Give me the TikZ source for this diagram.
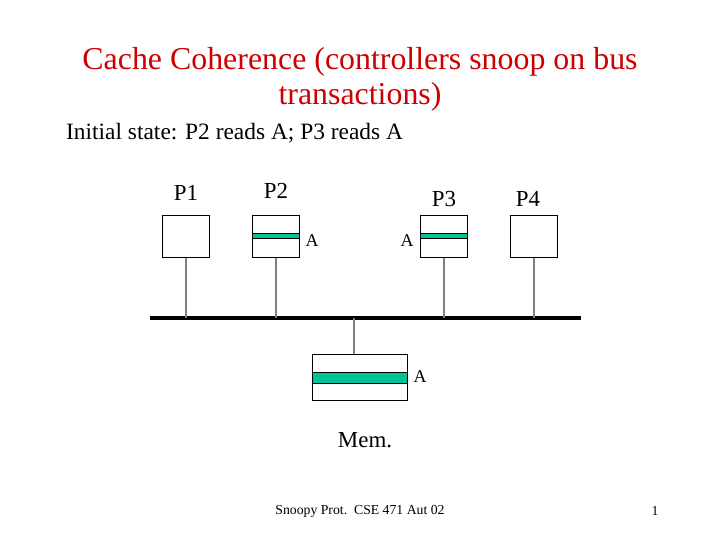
\documentclass[tikz,border=0pt]{standalone}
\usepackage{fontspec}
\setmainfont{Liberation Serif}
\definecolor{tred}{RGB}{204,0,0}
\definecolor{tgreen}{RGB}{0,196,150}
\begin{document}
\begin{tikzpicture}[x=1bp,y=-1bp,
  cbox/.style={draw=black,line width=1bp,fill=white},
  stripe/.style={draw=black,line width=0.8bp,fill=tgreen},
  wire/.style={draw=gray,line width=1.5bp},
  lbl/.style={font=\fontsize{23}{25}\selectfont,inner sep=0},
  albl/.style={font=\fontsize{18}{20}\selectfont,inner sep=0}]
\useasboundingbox (0,0) rectangle (720,540);
\node[font=\fontsize{32}{35}\selectfont,text=tred,align=center] (title) at (360,79) {Cache Coherence (controllers snoop on bus\\transactions)};
\node[font=\fontsize{23.5}{25}\selectfont,anchor=west,inner sep=0] (init) at (66,133) {Initial state: P2 reads A; P3 reads A};
% bus
\coordinate (busL) at (150,318); \coordinate (busR) at (581,318);
\draw[line width=4.5bp] (busL) -- (busR);
% processors
\foreach \n/\x in {1/186,2/276,3/444,4/534}{
  \node[cbox,minimum width=47bp,minimum height=41bp,inner sep=0] (c\n) at (\x,236.5) {};
  \coordinate (b\n) at (\x,318);
  \draw[wire] (c\n.south) -- (b\n);
}
\node[stripe,minimum width=47bp,minimum height=5bp,inner sep=0] (s2) at (276,236) {};
\node[stripe,minimum width=47bp,minimum height=5bp,inner sep=0] (s3) at (444,236) {};
\node[lbl] (p1) at (186,193) {P1};
\node[lbl] (p2) at (276,191) {P2};
\node[lbl] (p3) at (444,199) {P3};
\node[lbl] (p4) at (528,199) {P4};
\node[albl] (a2) at (312,241) {A};
\node[albl] (a3) at (407,241) {A};
% memory
\node[cbox,minimum width=95bp,minimum height=46bp,inner sep=0] (mem) at (359.5,377) {};
\node[stripe,minimum width=95bp,minimum height=11bp,inner sep=0] (ms) at (359.5,377.5) {};
\coordinate (bm) at (354,318);
\draw[wire] (bm) -- (354,354);
\node[albl] (am) at (420,377) {A};
\node[lbl] (memlbl) at (365,440) {Mem.};
\node[font=\fontsize{13.8}{15}\selectfont] (foot) at (360,511) {Snoopy Prot.\ \ CSE 471 Aut 02};
\node[font=\fontsize{13.8}{15}\selectfont] (pg) at (655,511) {1};
\end{tikzpicture}
\end{document}
